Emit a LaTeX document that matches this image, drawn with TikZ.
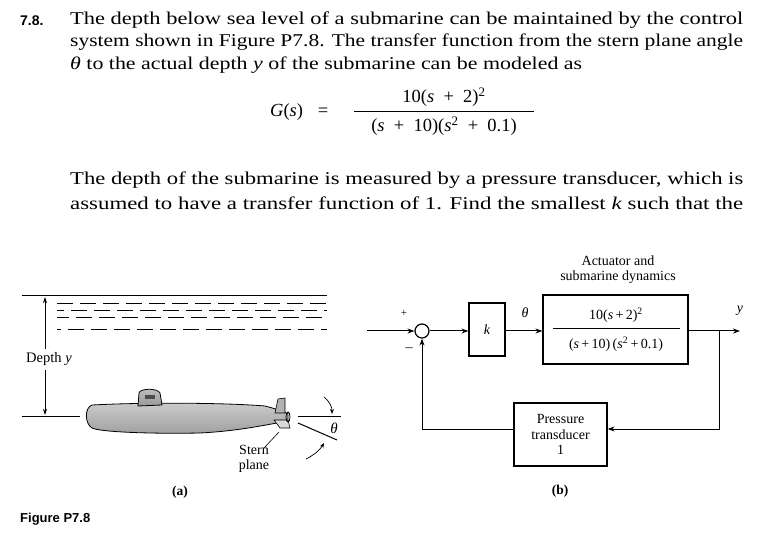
\documentclass[tikz,border=0pt]{standalone}
\usepackage{fontspec}
\usepackage{graphicx}
\setmainfont{Liberation Serif}
\newfontfamily\figfont{Liberation Sans}
\usetikzlibrary{arrows.meta}
\newcommand{\vi}[1]{\textit{#1}}
\newcommand{\fullline}[1]{\resizebox{673pt}{\height}{#1}}
\begin{document}
\begin{tikzpicture}[x=1pt,y=-1pt,
  txt/.style={anchor=west,inner sep=0pt,font=\fontsize{18}{22}\selectfont},
  lab/.style={inner sep=0pt,font=\fontsize{14}{15}\selectfont,align=center},
  blk/.style={draw,line width=1.2pt,inner sep=0pt},
  sig/.style={line width=1pt,-{Stealth[length=7pt,width=5pt]}},
  ln/.style={line width=1pt}]
\useasboundingbox (0,0) rectangle (774,537);
% problem text
\node[anchor=west,inner sep=0pt,font=\fontsize{14}{16}\selectfont\bfseries\figfont] (num) at (20,21) {7.8.};
\node[txt] (l1) at (70,20) {\fullline{The depth below sea level of a submarine can be maintained by the control}};
\node[txt] (l2) at (70,42) {\fullline{system shown in Figure P7.8. The transfer function from the stern plane angle}};
\node[txt] (l3) at (70,65) {\resizebox{512pt}{\height}{\vi{θ} to the actual depth \vi{y} of the submarine can be modeled as}};
\node[anchor=west,inner sep=0pt,font=\fontsize{18.5}{20}\selectfont] (gs) at (270,112) {\vi{G}(\vi{s})\hspace{0.8em}=};
\node[inner sep=0pt,font=\fontsize{18.5}{20}\selectfont] (num1) at (444,97) {10(\vi{s}\ \ +\ \ 2)\textsuperscript{2}};
\node[inner sep=0pt,font=\fontsize{18.5}{20}\selectfont] (den1) at (444,126) {(\vi{s}\ \ +\ \ 10)(\vi{s}\textsuperscript{2}\ \ +\ \ 0.1)};
\draw[line width=0.8pt] (354,111) -- (534,111);
\node[txt] (l4) at (70,180) {\fullline{The depth of the submarine is measured by a pressure transducer, which is}};
\node[txt] (l5) at (70,203) {\fullline{assumed to have a transfer function of 1. Find the smallest \vi{k} such that the}};
\node[anchor=west,inner sep=0pt,font=\fontsize{13}{15}\selectfont\bfseries\figfont] (figp) at (20,519) {Figure P7.8};
% ---- (a) submarine
\draw[ln] (22,296) -- (327,296);
\foreach \yy/\ph in {303/0,310/9,317/4,329/12}
  \draw[line width=0.8pt,dash pattern=on 16pt off 7pt,dash phase=\ph pt] (57,\yy) -- (327,\yy);
\draw[ln] (22,416) -- (80,416);
\node[lab,font=\fontsize{14.5}{15}\selectfont] (depth) at (49,359) {Depth \vi{y}};
\draw[line width=0.8pt,-{Stealth[length=6pt,width=4pt]}] (45,349) -- (45,297);
\draw[line width=0.8pt,-{Stealth[length=6pt,width=4pt]}] (45,370) -- (45,415);
% hull
\shade[top color=gray!40,bottom color=gray!75,draw=black,line width=0.8pt]
  (92,405) .. controls (150,402) and (230,403) .. (265,406)
  .. controls (280,410) and (285,412) .. (288,414)
  -- (288,421) .. controls (270,424) and (240,431) .. (200,433)
  .. controls (150,434) and (100,432) .. (92,428)
  .. controls (85,424) and (84,408) .. (92,405) -- cycle;
% tower
\shade[top color=gray!50,bottom color=gray!80,draw=black,line width=0.8pt]
  (138,406) -- (139,393) .. controls (140,388) and (158,388) .. (160,393) -- (162,405) -- cycle;
\fill[black!70] (145,395) rectangle (155,399);
% tail fins
\fill[gray!60,draw=black,line width=0.6pt] (275,413) -- (278,399) -- (285,398) -- (285,413) -- cycle;
\fill[gray!30,draw=black,line width=0.6pt] (274,420) -- (288,420) -- (290,428) -- (280,428) -- cycle;
\draw[line width=0.8pt] (288,417) ellipse (2pt and 5pt);
\draw[ln] (298,416) -- (341,416);
\draw[ln] (298,423) -- (337,440);
\node[lab,font=\fontsize{15}{15}\selectfont] (th) at (334,428) {\vi{θ}};
\draw[line width=0.7pt,-{Stealth[length=5pt,width=4pt]}] (324,397) .. controls (330,402) and (332,407) .. (332,414);
\draw[line width=0.7pt,-{Stealth[length=5pt,width=4pt]}] (306,459) .. controls (314,455) and (320,450) .. (324,443);
\node[lab] (stern) at (254,459) {Stern\\plane};
\draw[line width=0.6pt] (264,448) -- (279,432);
\node[lab,font=\fontsize{13.5}{14}\selectfont\bfseries] (pa) at (180,492) {(a)};
% ---- (b) block diagram
\coordinate (in) at (367,331);
\node[draw,circle,line width=1.2pt,minimum size=14pt,inner sep=0pt] (sum) at (422,331) {};
\node[blk,minimum width=36pt,minimum height=53pt] (k) at (487,329.5) {\fontsize{14}{14}\selectfont\vi{k}};
\node[blk,minimum width=145pt,minimum height=69pt] (G) at (615.5,329.5) {};
\draw[line width=0.7pt] (553,328) -- (680,328);
\node[lab] (gn) at (616,315) {10(\vi{s}\,+\,2)\textsuperscript{2}};
\node[lab] (gd) at (616,344) {(\vi{s}\,+\,10)\,(\vi{s}\textsuperscript{2}\,+\,0.1)};
\node[lab] (act) at (618,270) {Actuator and\\submarine dynamics};
\node[blk,minimum width=93pt,minimum height=63pt,align=center,font=\fontsize{14}{15.5}\selectfont] (P) at (560.5,434.5) {Pressure\\transducer\\1};
\coordinate (out) at (740,331);
\coordinate (br) at (719,331);
\draw[sig] (in) -- (sum.west);
\draw[sig] (sum.east) -- (k.west |- sum);
\draw[sig] (k.east |- sum) -- (G.west |- sum);
\draw[sig] (G.east |- sum) -- (out);
\draw[sig] (br) |- (P.east |- 0,429);
\draw[sig] (P.west |- 0,429) -| (sum.south);
\node[lab,font=\fontsize{11}{12}\selectfont] (plus) at (404,313) {+};
\node[lab] (minus) at (409,350) {–};
\node[lab] (thb) at (525,313) {\vi{θ}};
\node[lab] (yb) at (740,311) {\vi{y}};
\node[lab,font=\fontsize{13.5}{14}\selectfont\bfseries] (pb) at (560,491) {(b)};
\end{tikzpicture}
\end{document}
